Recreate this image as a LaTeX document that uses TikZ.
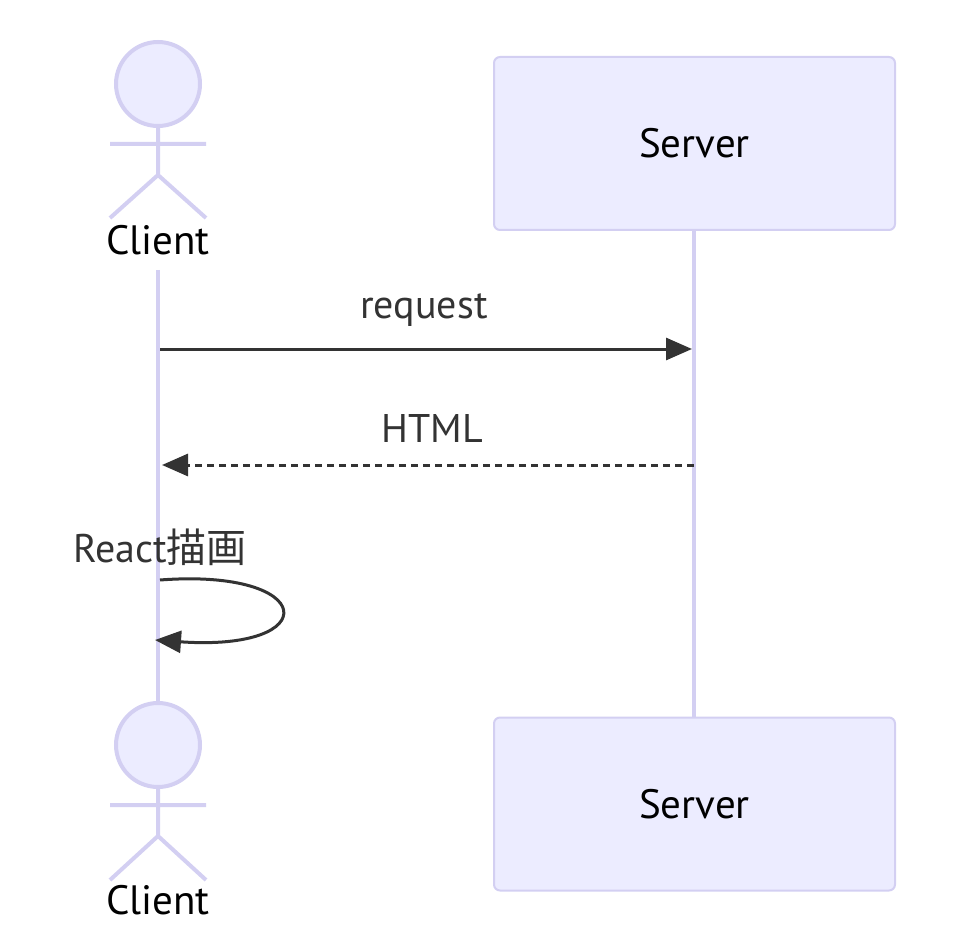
\documentclass[tikz,border=0pt]{standalone}
\usepackage{fontspec}
\setmainfont{PT Sans}
\newfontfamily\cjk{Noto Sans CJK JP}
\usetikzlibrary{arrows.meta}
\definecolor{lav}{HTML}{D3CFF2}
\definecolor{boxfill}{HTML}{ECECFF}
\definecolor{ink}{HTML}{333333}
\begin{document}
\begin{tikzpicture}[x=1pt,y=-1pt,
  actorline/.style={draw=lav,line width=4pt},
  box/.style={draw=lav,fill=boxfill,line width=2pt,rounded corners=6pt,minimum width=401pt,minimum height=173pt,font=\fontsize{41}{44}\selectfont},
  lbl/.style={font=\fontsize{41}{44}\selectfont,text=black},
  msg/.style={font=\fontsize{40}{44}\selectfont,text=ink},
  arr/.style={draw=ink,line width=3pt,-{Triangle[length=26pt,width=22pt]}}]
\useasboundingbox (0,0) rectangle (978,952);
% lifelines
\draw[lav,line width=4pt] (158,270) -- (158,705);
\draw[lav,line width=4pt] (694,230) -- (694,718);
% top client
\draw[actorline,fill=boxfill] (158,84) circle (42);
\draw[actorline] (158,126) -- (158,175) (110,144) -- (206,144) (110,218) -- (158,175) -- (206,218);
\node[lbl] (c1) at (158,240) {Client};
% bottom client
\draw[actorline,fill=boxfill] (158,745) circle (42);
\draw[actorline] (158,787) -- (158,836) (110,805) -- (206,805) (110,880) -- (158,836) -- (206,880);
\node[lbl] (c2) at (158,900) {Client};
% servers
\node[box] (s1) at (694.5,143.5) {Server};
\node[box] (s2) at (694.5,804) {Server};
% messages
\coordinate (a1) at (160,349); \coordinate (a2) at (692,349);
\draw[arr] (a1) -- (a2);
\node[msg] (m1) at (424,310) {request};
\coordinate (b1) at (694,465); \coordinate (b2) at (162,465);
\draw[arr,dash pattern=on 7pt off 5pt] (b1) -- (b2);
\node[msg] (m2) at (432,428) {HTML};
\node[msg] (m3) at (160,547) {React{\cjk 描画}};
\coordinate (r1) at (160,580); \coordinate (r2) at (155,640);
\draw[arr] (r1) .. controls (318,568) and (325,652) .. (r2);
\end{tikzpicture}
\end{document}
